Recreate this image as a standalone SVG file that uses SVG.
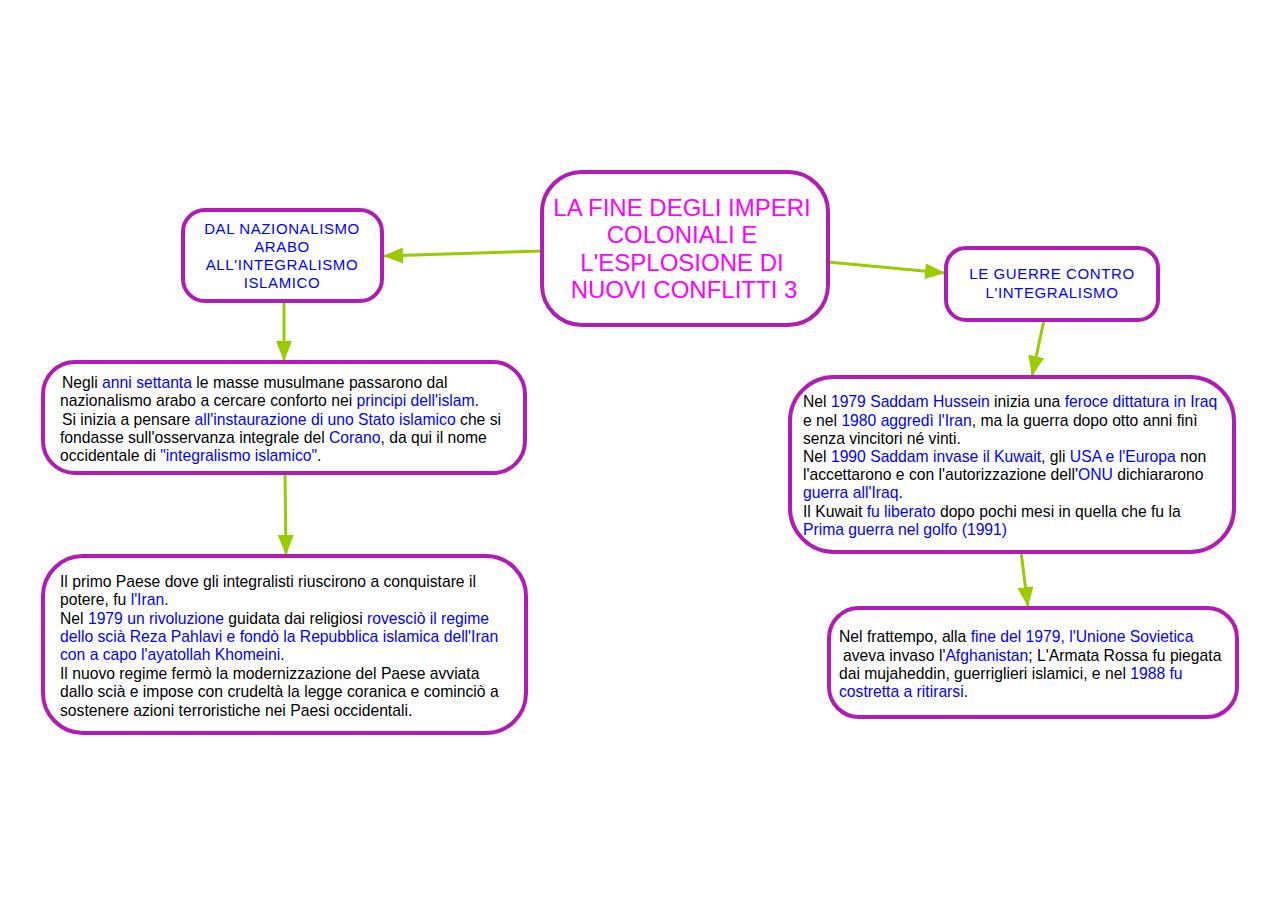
<svg xmlns="http://www.w3.org/2000/svg" width="1280" height="905" viewBox="0 0 1280 905">
<defs>
<style>
.box{fill:#ffffff;stroke:#b01cb4;stroke-width:4}
.t{font-family:"Liberation Sans",Arial,sans-serif;font-size:15.7px;fill:#000000}
.b{fill:#0000ff}
.title{font-family:"Liberation Sans",Arial,sans-serif;font-size:24px;fill:#ff00ff;text-anchor:middle}
.head{font-family:"Liberation Sans",Arial,sans-serif;font-size:15px;letter-spacing:0.6px;fill:#0000ff;text-anchor:middle}
.link{stroke:#99cc00;stroke-width:3;fill:none}
</style>
<marker id="arr" viewBox="0 0 20 16" refX="20" refY="8" markerWidth="20" markerHeight="16" markerUnits="userSpaceOnUse" orient="auto">
<path d="M0,0 L20,8 L0,16 Z" fill="#99cc00"/>
</marker>
</defs>
<rect width="1280" height="905" fill="#ffffff"/>
<g id="connectors">
<line class="link" x1="542" y1="251" x2="383" y2="256" marker-end="url(#arr)"/>
<line class="link" x1="828" y1="262" x2="945" y2="273" marker-end="url(#arr)"/>
<line class="link" x1="284" y1="301" x2="284" y2="361" marker-end="url(#arr)"/>
<line class="link" x1="285" y1="473" x2="286" y2="555" marker-end="url(#arr)"/>
<line class="link" x1="1044" y1="320" x2="1032" y2="376" marker-end="url(#arr)"/>
<line class="link" x1="1021" y1="552" x2="1028" y2="607" marker-end="url(#arr)"/>
</g>
<g id="node-center">
<rect class="box" x="542" y="172" width="286" height="153" rx="40" ry="40"/>
<text class="title" x="682" y="216">LA FINE DEGLI IMPERI</text>
<text class="title" x="682" y="243.4">COLONIALI E</text>
<text class="title" x="682" y="270.9">L'ESPLOSIONE DI</text>
<text class="title" x="684" y="298.3">NUOVI CONFLITTI 3</text>
</g>
<g id="node-nazionalismo">
<rect class="box" x="183" y="210" width="199" height="91" rx="22" ry="22"/>
<text class="head" x="282" y="234">DAL NAZIONALISMO</text>
<text class="head" x="282" y="252">ARABO</text>
<text class="head" x="282" y="270">ALL'INTEGRALISMO</text>
<text class="head" x="282" y="288">ISLAMICO</text>
</g>
<g id="node-guerre">
<rect class="box" x="946" y="248" width="212" height="72" rx="20" ry="20"/>
<text class="head" x="1052" y="279">LE GUERRE CONTRO</text>
<text class="head" x="1052" y="298">L'INTEGRALISMO</text>
</g>
<g id="node-anni-settanta">
<rect class="box" x="43" y="362" width="482" height="111" rx="32" ry="32"/>
<text class="t" x="62" y="387.7">Negli <tspan class="b">anni settanta</tspan> le masse musulmane passarono dal</text>
<text class="t" x="60" y="406.1">nazionalismo arabo a cercare conforto nei <tspan class="b">principi dell'islam</tspan>.</text>
<text class="t" x="62" y="424.5">Si inizia a pensare <tspan class="b">all'instaurazione di uno Stato islamico</tspan> che si</text>
<text class="t" x="60" y="442.9">fondasse sull'osservanza integrale del <tspan class="b">Corano</tspan>, da qui il nome</text>
<text class="t" x="60" y="461.3">occidentale di <tspan class="b">"integralismo islamico"</tspan>.</text>
</g>
<g id="node-iran">
<rect class="box" x="43" y="556" width="483" height="177" rx="40" ry="40"/>
<text class="t" x="60" y="586.7">Il primo Paese dove gli integralisti riuscirono a conquistare il</text>
<text class="t" x="60" y="605.1">potere, fu <tspan class="b">l'Iran</tspan>.</text>
<text class="t" x="60" y="623.5">Nel <tspan class="b">1979 un rivoluzione</tspan> guidata dai religiosi <tspan class="b">rovesciò il regime</tspan></text>
<text class="t" x="60" y="641.9"><tspan class="b">dello scià Reza Pahlavi e fondò la Repubblica islamica dell'Iran</tspan></text>
<text class="t" x="60" y="660.3"><tspan class="b">con a capo l'ayatollah Khomeini</tspan>.</text>
<text class="t" x="60" y="678.7">Il nuovo regime fermò la modernizzazione del Paese avviata</text>
<text class="t" x="60" y="697.1">dallo scià e impose con crudeltà la legge coranica e cominciò a</text>
<text class="t" x="60" y="715.5">sostenere azioni terroristiche nei Paesi occidentali.</text>
</g>
<g id="node-saddam">
<rect class="box" x="790" y="377" width="444" height="175" rx="44" ry="44"/>
<text class="t" x="803" y="407.4">Nel <tspan class="b">1979 Saddam Hussein</tspan> inizia una <tspan class="b">feroce dittatura in Iraq</tspan></text>
<text class="t" x="803" y="425.6">e nel <tspan class="b">1980 aggredì l'Iran</tspan>, ma la guerra dopo otto anni finì</text>
<text class="t" x="803" y="443.8">senza vincitori né vinti.</text>
<text class="t" x="803" y="462">Nel <tspan class="b">1990 Saddam invase il Kuwait</tspan>, gli <tspan class="b">USA e l'Europa</tspan> non</text>
<text class="t" x="803" y="480.2">l'accettarono e con l'autorizzazione dell'<tspan class="b">ONU</tspan> dichiararono</text>
<text class="t" x="803" y="498.4"><tspan class="b">guerra all'Iraq</tspan>.</text>
<text class="t" x="803" y="516.6">Il Kuwait <tspan class="b">fu liberato</tspan> dopo pochi mesi in quella che fu la</text>
<text class="t" x="803" y="534.8"><tspan class="b">Prima guerra nel golfo (1991)</tspan></text>
</g>
<g id="node-afghanistan">
<rect class="box" x="829" y="608" width="408" height="109" rx="30" ry="30"/>
<text class="t" x="839" y="642.4">Nel frattempo, alla <tspan class="b">fine del 1979, l'Unione Sovietica</tspan></text>
<text class="t" x="843" y="660.5">aveva invaso l'<tspan class="b">Afghanistan</tspan>; L'Armata Rossa fu piegata</text>
<text class="t" x="839" y="678.6">dai mujaheddin, guerriglieri islamici, e nel <tspan class="b">1988 fu</tspan></text>
<text class="t" x="839" y="696.7"><tspan class="b">costretta a ritirarsi</tspan>.</text>
</g>
</svg>
